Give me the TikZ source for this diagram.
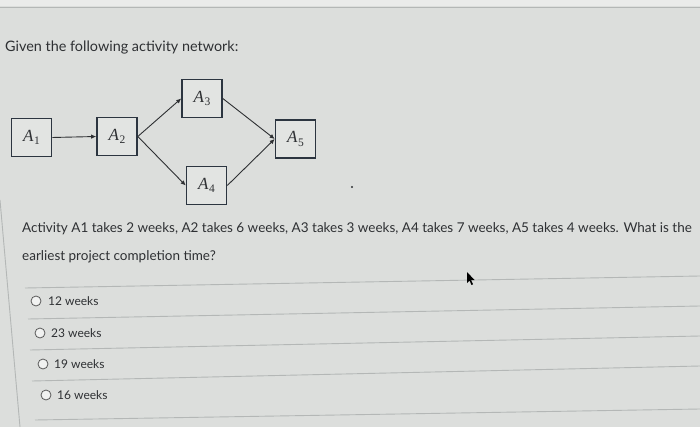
\documentclass[tikz,border=0pt]{standalone}
\usepackage{fontspec}
\setmainfont{Lato}
\newfontfamily\mfont{Liberation Serif}
\usetikzlibrary{arrows.meta}
\definecolor{bg}{HTML}{DCDEDC}
\definecolor{txt}{HTML}{2E3033}
\definecolor{boxline}{HTML}{2C3540}
\definecolor{boxfill}{HTML}{E2E4E2}
\definecolor{rule}{HTML}{B4B7B6}
\newcommand{\actlab}[1]{{\mfont\itshape\fontsize{17}{19}\selectfont A}\kern0.5pt\raisebox{-3.5pt}{\mfont\fontsize{11.5}{12}\selectfont #1}}
\tikzset{
  act/.style={draw=boxline, line width=1.6pt, fill=boxfill, minimum width=40pt, minimum height=38pt, inner sep=0pt, text=txt},
  flow/.style={draw=txt, line width=0.9pt, -{Latex[length=5pt,width=4.5pt]}},
  body/.style={anchor=base west, text=txt, inner sep=0pt, font=\fontsize{13.5}{16}\selectfont},
  opt/.style={anchor=base west, text=txt, inner sep=0pt, font=\fontsize{12}{14}\selectfont},
  radio/.style={draw=gray!70!black, line width=0.8pt, fill=white!60!bg},
  sep/.style={draw=rule, line width=0.9pt}
}
\begin{document}
\begin{tikzpicture}[x=1pt,y=-1pt]
\fill[bg] (0,0) rectangle (700,427);
\useasboundingbox (0,0) rectangle (700,427);
\fill[white!40!bg] (0,0) rectangle (700,6);
\draw[sep] (0,7) -- (700,7);
\node[body, font=\fontsize{14.4}{17}\selectfont] (title) at (5,52) {Given the following activity network:};

\node[act] (a1) at (31.5,137.5) {\actlab{1}};
\node[act] (a2) at (117,136.5) {\actlab{2}};
\node[act] (a3) at (202,98.5) {\actlab{3}};
\node[act] (a4) at (206.5,185.5) {\actlab{4}};
\node[act] (a5) at (295.5,139) {\actlab{5}};
\draw[flow] (a1.east) -- (a2.west);
\draw[flow] (a2.east) -- (a3.west);
\draw[flow] (a2.east) -- (a4.west);
\draw[flow] (a3.east) -- (a5.west);
\draw[flow] (a4.east) -- (a5.west);
\fill[txt] (352,187) circle (1.2);

\node[body] (q1) at (22,233) {Activity A1 takes 2 weeks, A2 takes 6 weeks, A3 takes 3 weeks, A4 takes 7 weeks, A5 takes 4 weeks. What is the};
\node[body] (q2) at (22,261) {earliest project completion time?};

\draw[sep] (0,200) -- (20,427);
\draw[sep] (25,288) -- (700,276);
\draw[sep] (28,319) -- (700,306);
\draw[sep] (30,350) -- (700,336);
\draw[sep] (32,381) -- (700,366);
\draw[sep] (35,420) -- (700,409);

\draw[radio] (36,301) circle (5);
\node[opt] (o1) at (48,305.5) {12 weeks};
\draw[radio] (40,333) circle (5);
\node[opt] (o2) at (51,337.5) {23 weeks};
\draw[radio] (43,364) circle (5);
\node[opt] (o3) at (54,368.5) {19 weeks};
\draw[radio] (46,395) circle (5);
\node[opt] (o4) at (57,399) {16 weeks};

\fill[black] (467,272) -- (467,283) -- (469.5,280.5) -- (471.5,285) -- (473,284.3) -- (471,280) -- (474.5,280) -- cycle;
\end{tikzpicture}
\end{document}
